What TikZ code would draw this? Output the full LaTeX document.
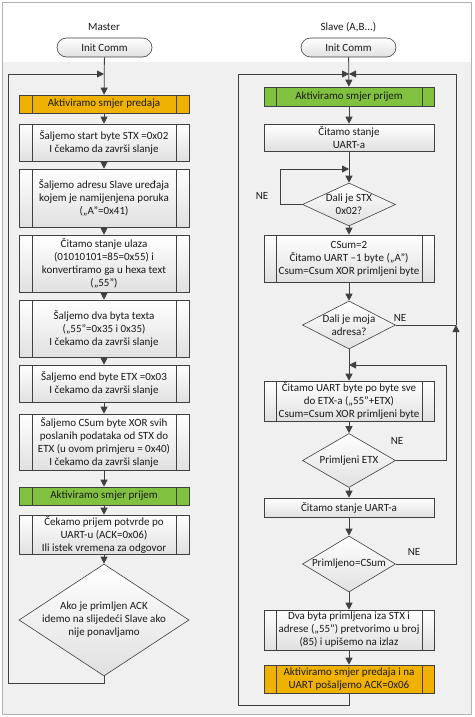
\documentclass[tikz,border=0pt]{standalone}
\usepackage{fontspec}
\setmainfont{Carlito}
\usetikzlibrary{shapes.geometric, arrows.meta}

\definecolor{linegray}{RGB}{64,64,64}
\definecolor{bggray}{RGB}{240,240,240}
\definecolor{boxorange}{RGB}{240,178,0}
\definecolor{boxgreen}{RGB}{128,194,64}

\begin{document}
\begin{tikzpicture}[x=1pt, y=-1pt,
    every node/.style={font=\fontsize{11}{13}\selectfont, text=black!90},
    conn/.style={draw=linegray, line width=0.8pt},
    flow/.style={conn, -{Triangle[length=7pt,width=7pt]}},
    procbox/.style={draw=linegray, line width=0.6pt, minimum width=170pt, inner sep=1pt, align=center},
    boxshade/.style={top color=white, bottom color=black!12},
    sidebars/.style={path picture={\draw[linegray, line width=0.6pt]
        ([xshift=#1]path picture bounding box.north west) -- ([xshift=#1]path picture bounding box.south west)
        ([xshift=-#1]path picture bounding box.north east) -- ([xshift=-#1]path picture bounding box.south east);}},
    process/.style={procbox, boxshade},
    subproc/.style={procbox, boxshade, sidebars=13pt},
    orangeproc/.style={procbox, fill=boxorange, sidebars=13pt},
    greenproc/.style={procbox, fill=boxgreen, sidebars=13pt},
    decision/.style={diamond, draw=linegray, line width=0.6pt, boxshade, inner sep=0pt, minimum width=93pt},
    terminal/.style={draw=linegray, line width=0.6pt, boxshade, rounded corners=9.5pt, minimum width=95pt, minimum height=19pt, inner sep=0pt}
]
    % Background
    \useasboundingbox (0,0) rectangle (474,717);
    \fill[white] (0,0) rectangle (474,717);
    \draw[gray!60, line width=0.8pt, fill=bggray] (2.5,2.5) rectangle (471,714);
    \fill[white] (3,3) rectangle (470.5,62);

    % Master
    \node (master) at (104,27) {Master};
    \node[terminal] (mInit) at (104.5,47.5) {Init Comm};
    \node[orangeproc, minimum height=18pt] (mAkt) at (104,104) {Aktiviramo smjer predaja};
    \node[subproc, minimum height=37pt] (mStx) at (104,142.5) {Šaljemo start byte STX =0x02\\I čekamo da završi slanje};
    \node[subproc, minimum height=58pt] (mAdr) at (104,198) {Šaljemo adresu Slave uređaja\\kojem je namijenjena poruka\\(„A”=0x41)};
    \node[subproc, minimum height=57pt] (mUlaz) at (104,263.5) {Čitamo stanje ulaza\\(01010101=85=0x55) i\\konvertiramo ga u hexa text\\(„55”)};
    \node[subproc, minimum height=57pt] (mDva) at (104,328.5) {Šaljemo dva byta texta\\(„55”=0x35 i 0x35)\\I čekamo da završi slanje};
    \node[subproc, minimum height=37pt] (mEtx) at (104,383.5) {Šaljemo end byte ETX =0x03\\I čekamo da završi slanje};
    \node[subproc, minimum height=56pt] (mCsum) at (104,442) {Šaljemo CSum byte XOR svih\\poslanih podataka od STX do\\ETX (u ovom primjeru = 0x40)\\I čekamo da završi slanje};
    \node[greenproc, minimum height=18pt] (mPrijem) at (104,496) {Aktiviramo smjer prijem};
    \node[subproc, minimum height=39pt] (mAck) at (104,534.5) {Čekamo prijem potvrde po\\UART-u (ACK=0x06)\\Ili istek vremena za odgovor};
    \node[decision, minimum width=170pt, minimum height=112pt,
        label={[align=center]center:{Ako je primljen ACK\\idemo na slijedeći Slave ako\\nije ponavljamo}}] (mDec) at (104,620) {};

    \coordinate (mTop) at (104,74);
    \coordinate (mLoop) at (8,683);
    \foreach \a/\b in {mInit/mAkt, mAkt/mStx, mStx/mAdr, mAdr/mUlaz, mUlaz/mDva, mDva/mEtx, mEtx/mCsum, mCsum/mPrijem, mPrijem/mAck, mAck/mDec}
        \draw[flow] (\a) -- (\b);
    \draw[flow] (mDec.south) |- (mLoop) |- (mTop);

    % Slave
    \node (slave) at (348.5,27) {Slave (A,B...)};
    \node[terminal] (sInit) at (348.5,47.5) {Init Comm};
    \node[greenproc, minimum height=19pt, sidebars=12pt] (sPrijem) at (349,96.5) {Aktiviramo smjer prijem};
    \node[process, minimum height=27pt] (sUart) at (349,137.5) {Čitamo stanje\\UART-a};
    \node[decision, minimum height=43pt,
        label={[align=center]center:{Dali je STX\\0x02?}}] (sStx) at (349,204.5) {};
    \node[subproc, minimum height=47pt, sidebars=12pt] (sAdr) at (349,258.5) {CSum=2\\Čitamo UART –1 byte („A”)\\Csum=Csum XOR primljeni byte};
    \node[decision, minimum height=48pt,
        label={[align=center]center:{Dali je moja\\adresa?}}] (sMoja) at (349,325) {};
    \node[subproc, minimum height=40pt, sidebars=12pt] (sByte) at (349,401) {Čitamo UART byte po byte sve\\do ETX-a („55”+ETX)\\Csum=Csum XOR primljeni byte};
    \node[decision, minimum height=54pt,
        label={center:{Primljeni ETX}}] (sEtx) at (349,460.5) {};
    \node[process, minimum height=19pt] (sUart2) at (349,507.5) {Čitamo stanje UART-a};
    \node[decision, minimum height=56pt,
        label={center:{Primljeno=CSum}}] (sCs) at (349,564) {};
    \node[subproc, minimum height=40pt, sidebars=12pt] (sBroj) at (349,630) {Dva byta primljena iza STX i\\adrese („55”) pretvorimo u broj\\(85) i upišemo na izlaz};
    \node[orangeproc, minimum height=28pt, sidebars=12pt] (sAck) at (349,679) {Aktiviramo smjer predaja i na\\UART pošaljemo ACK=0x06};

    \node (neStx) at (262,196) {NE};
    \node (neMoja) at (400,318) {NE};
    \node (neEtx) at (397,441) {NE};
    \node (neCs) at (414,552) {NE};

    \coordinate (sTop) at (349,74);
    \coordinate (sLoopL) at (238,705);
    \coordinate (sLoopR) at (456,325);
    \coordinate (sStxBack) at (280,169);
    \coordinate (sStxIn) at (349,169);
    \coordinate (sEtxBack) at (446,365);
    \coordinate (sByteIn) at (349,365);
    \foreach \a/\b in {sInit/sPrijem, sPrijem/sUart, sUart/sStx, sStx/sAdr, sAdr/sMoja, sMoja/sByte, sByte/sEtx, sEtx/sUart2, sUart2/sCs, sCs/sBroj, sBroj/sAck}
        \draw[flow] (\a) -- (\b);
    \draw[flow] (sStx.west) -| (sStxBack) -- (sStxIn);
    \draw[flow] (sEtx.east) -| (sEtxBack) -- (sByteIn);
    \draw[conn] (sMoja.east) -- (sLoopR);
    \draw[flow] (sCs.east) -| (sLoopR);
    \draw[flow] (sLoopR) |- (sTop);
    \draw[flow] (sAck.south) |- (sLoopL) |- (sTop);
\end{tikzpicture}
\end{document}
